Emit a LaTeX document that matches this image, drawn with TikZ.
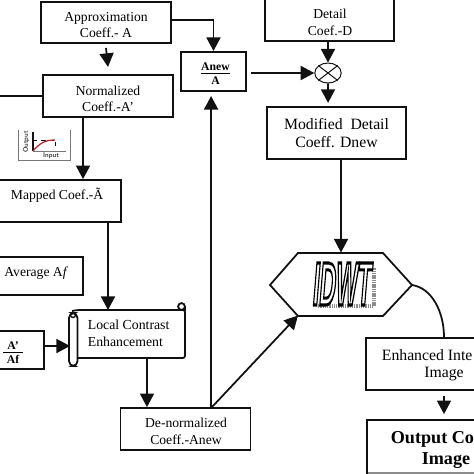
\documentclass[tikz,border=0pt]{standalone}
\usepackage{fontspec}
\usepackage{graphicx}
\setmainfont{Liberation Serif}
\newfontfamily\idwtfont[BoldFont={Liberation Sans Bold},BoldFeatures={FakeBold=5,FakeSlant=0.22}]{Liberation Sans}
\usetikzlibrary{arrows.meta,positioning,shapes.geometric,calc}
\definecolor{inkblack}{HTML}{111111}
\definecolor{curvered}{HTML}{C0272D}
\definecolor{framegrey}{HTML}{777777}
\definecolor{shadegrey}{HTML}{8C8C8C}
\tikzset{
  coefbox/.style={draw=inkblack,line width=1.25pt,align=center,inner sep=0pt,font=\fontsize{9.7}{11.6}\selectfont},
  bigbox/.style={coefbox,font=\fontsize{11.2}{13.4}\selectfont},
  fracbox/.style={coefbox,font=\fontsize{8.3}{10}\selectfont\bfseries},
  flow/.style={draw=inkblack,line width=1.25pt,-{Triangle[length=3.4mm,width=3.5mm]}},
  plain/.style={draw=inkblack,line width=1.25pt},
  tinytext/.style={inner sep=0pt,font=\fontsize{4.8}{5}\selectfont\sffamily}
}
\begin{document}
\begin{tikzpicture}[x=0.025cm,y=-0.025cm]
  \clip (0,0) rectangle (474,474);
  \fill[white] (0,0) rectangle (474,474);

  % left column
  \node[coefbox,minimum width=3.25cm,minimum height=1.03cm] (approx) at (106,22.5) {};
  \node[coefbox,draw=none] (approxtxt) at (106,25) {Approximation\\Coeff.- A};
  \node[coefbox,minimum width=3.25cm,minimum height=1.05cm] (norm) at (108,96) {};
  \node[coefbox,draw=none] (normtxt) at (108,99) {Normalized\\Coeff.-A’};
  \node[coefbox,minimum width=3.1cm,minimum height=1.05cm] (mapped) at (59,201) {};
  \node[coefbox,draw=none,anchor=west] (mappedtxt) at (10,195) {Mapped Coef.-Ã};
  \node[coefbox,minimum width=2.4cm,minimum height=0.95cm] (average) at (35,276) {};
  \node[coefbox,draw=none,anchor=west] (averagetxt) at (3.5,273) {Average A\textit{f}};
  \node[fracbox,minimum width=1.9cm,minimum height=0.95cm] (ratio) at (6,350) {};
  \node[fracbox,draw=none] (ratiotxt) at (13,353) {\underline{\,\,A’\,\,}\\Af};

  % small transfer curve
  \draw[framegrey,line width=0.6pt] (18.5,130) -- (18.5,160) -- (70,160) -- (70,130);
  \draw[inkblack,line width=1.1pt] (33,132) -- (33,151);
  \draw[framegrey,line width=0.6pt] (33,151) -- (66,151);
  \draw[inkblack,line width=0.5pt,dashed] (33,140) -- (54,140) (55,142) -- (55,148);
  \draw[curvered,line width=0.9pt] (33,151) .. controls (40,143) and (45,140) .. (55,140);
  \node[tinytext,rotate=90] (outputlabel) at (26,142) {Output};
  \node[tinytext] (inputlabel) at (51,156) {Input};

  % scroll with its text
  \draw[plain,fill=white,rounded corners=1.5pt] (72,311) -- (77,310) -- (185,310) -- (185,358) -- (77,358);
  \draw[plain,line width=1.25pt] (185,311) -- (185,306);
  \draw[plain,fill=white,rounded corners=3.5pt] (69,313) rectangle (77.5,366);
  \draw[plain,line width=1pt] (73,315) circle (2.5);
  \draw[plain,line width=1.3pt] (181.5,306.5) circle (3.4);
  \node[coefbox,draw=none,font=\fontsize{9.8}{12}\selectfont,align=left,anchor=west] (local) at (87,333.5) {Local Contrast\\Enhancement};
  \coordinate (scrolltop) at (108,310);
  \coordinate (scrollin) at (70,346);
  \coordinate (scrollout) at (147,358);

  \node[coefbox,minimum width=3.25cm,minimum height=1.05cm] (denorm) at (185.5,429) {};
  \node[coefbox,draw=none] (denormtxt) at (186,431.5) {De-normalized\\Coeff.-Anew};
  \node[fracbox,minimum width=1.63cm,minimum height=0.98cm] (ratioanew) at (213.5,71.5) {};
  \node[fracbox,draw=none] (ratioanewtxt) at (215.5,74) {\underline{Anew}\\A};

  % right column
  \node[coefbox,minimum width=3.23cm,minimum height=1.4cm] (detail) at (329.5,13) {};
  \node[coefbox,draw=none] (detailtxt) at (330,22.5) {Detail\\Coef.-D};
  \node[draw=inkblack,line width=0.7pt,ellipse,minimum width=0.66cm,minimum height=0.5cm,inner sep=0pt] (mult) at (328,73) {};
  \draw[inkblack,line width=0.7pt] (mult.north west) -- (mult.south east) (mult.north east) -- (mult.south west);
  \node[bigbox,minimum width=3.47cm,minimum height=1.3cm] (modified) at (336.5,133) {Modified\ \ Detail\\Coeff. Dnew};
  \draw[plain] (270,285) -- (298,253) -- (383,253) -- (412,285) -- (383,316) -- (298,316) -- cycle;
  \coordinate (hexright) at (412,285);
  \coordinate (hexin) at (298,315.5);
  \draw[shadegrey,line width=2.8pt,dash pattern=on 1pt off 0.6pt] (318,306) -- (374,306) -- (374,268);
  \node[inner sep=0pt] (idwt) at (341,284) {\resizebox{1.45cm}{1.05cm}{\special{pdf:code 1 1 1 rg 0 0 0 RG}\idwtfont\bfseries IDWT}};
  \node[bigbox,minimum width=3.9cm,minimum height=1.3cm] (enhanced) at (444,364) {};
  \node[bigbox,draw=none,anchor=west] (enhancedtxt) at (381,355) {Enhanced Inte};
  \node[bigbox,draw=none] (enhancedimg) at (444,374) {Image};
  \node[coefbox,line width=1.5pt,minimum width=3.9cm,minimum height=1.6cm] (output) at (445,452) {};
  \node[coefbox,draw=none,anchor=west,font=\fontsize{12.9}{15}\selectfont\bfseries] (outputtxt) at (390,439) {Output Co};
  \node[coefbox,draw=none,font=\fontsize{12.9}{15}\selectfont\bfseries] (outputimg) at (446,461) {Image};
  \fill[shadegrey] (368,472) rectangle (474,474);

  % connectors
  \draw[flow] (approx.east |- 0,20) -| (ratioanew.north);
  \draw[flow] ([yshift=-0.1cm]approx.south) -- ([yshift=0.18cm]norm.north);
  \draw[plain] (norm.west) -- ++(-50,0);
  \draw[flow] ([xshift=-0.625cm]norm.south) -- ([xshift=0.6cm]mapped.north);
  \draw[flow] ([xshift=1.225cm]mapped.south) -- (scrolltop);
  \draw[flow] (ratio.east |- scrollin) -- (scrollin);
  \draw[flow] (scrollout) -- (scrollout |- denorm.north);
  \draw[flow] ([xshift=0.64cm]denorm.north) -- ([xshift=-0.06cm,yshift=-0.1cm]ratioanew.south);
  \draw[flow] ([xshift=0.66cm]denorm.north) -- (hexin);
  \draw[flow] ([xshift=0.1cm]ratioanew.east |- mult) -- (mult.west);
  \draw[flow] (mult |- detail.south) -- (mult.north);
  \draw[flow] (mult.south) -- ([xshift=-0.21cm,yshift=0.08cm]modified.north);
  \draw[flow] (341,159) -- (341,252.5);
  \draw[plain] (hexright) .. controls (432,288) and (444,312) .. (enhanced.north);
  \draw[flow] ([yshift=-0.12cm]enhanced.south) -- ([yshift=0.12cm]enhanced.south |- output.north);
\end{tikzpicture}
\end{document}
